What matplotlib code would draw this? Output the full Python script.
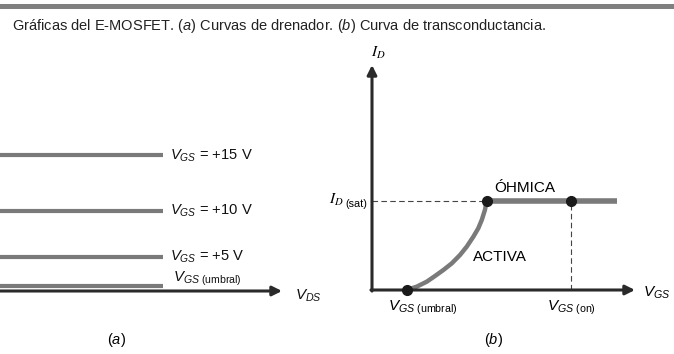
import numpy as np
import matplotlib
matplotlib.use("Agg")
import matplotlib.pyplot as plt

plt.rcParams['font.family'] = ['Liberation Sans', 'DejaVu Sans']
plt.rcParams['mathtext.fontset'] = 'custom'
plt.rcParams['mathtext.rm'] = 'Liberation Sans'
plt.rcParams['mathtext.it'] = 'Liberation Sans:italic'
plt.rcParams['mathtext.bf'] = 'Liberation Sans:bold'

# (a) curvas de drenador
vds_end = 10.0
id_curvas = [15.0, 8.9, 3.8, 0.55]
etiquetas_a = [r"$V_{GS}$ = +15 V", r"$V_{GS}$ = +10 V", r"$V_{GS}$ = +5 V",
               r"$V_{GS\ \mathrm{(umbral)}}$"]

# (b) curva de transconductancia
vgs_umbral = 2.0
vgs_knee = 6.54
vgs_on = 11.35
vgs_fin = 14.0
id_sat = 9.85
vgs_curva = [1.98, 2.55, 3.12, 3.59, 4.07, 4.55, 5.02, 5.40, 5.78, 6.06, 6.26, 6.44, 6.54]
id_curva = [0.0, 0.37, 0.92, 1.55, 2.22, 2.96, 3.89, 4.81, 5.92, 6.85, 7.78, 8.89, 9.85]

W, H = 674, 354
GRIS = '#7a7a7a'
NEGRO = '#2a2a2a'

fig = plt.figure(figsize=(W / 100, H / 100), dpi=100)


def caja(x0, x1, y0, y1):
    # pixel box -> figure fraction
    return [x0 / W, (H - y0) / H, (x1 - x0) / W, (y0 - y1) / H]


# barra superior y titulo
fig.add_artist(plt.Rectangle((0, (H - 9) / H), 1, 5 / H, transform=fig.transFigure,
                             color='#808080', lw=0))
fig.text(12 / W, (H - 26) / H,
         r"Gráficas del E-MOSFET. ($\mathit{a}$) Curvas de drenador. ($\mathit{b}$) Curva de transconductancia.",
         fontsize=10.5, va='center', ha='left', color='#222222')

# ---- panel (a)
axa = fig.add_axes(caja(0, 282, 291, 65))
axa.set_xlim(0, 17.3)
axa.set_ylim(0, 25)
axa.axis('off')
for idv in id_curvas:
    axa.plot([0, vds_end], [idv, idv], color=GRIS, lw=3.0, solid_capstyle='butt', clip_on=False)
for idv, lab in zip(id_curvas[:3], etiquetas_a[:3]):
    axa.annotate(lab, (vds_end, idv), xytext=(7, 0), textcoords='offset pixels',
                 fontsize=10.6, va='center', ha='left', color='#111111')
axa.annotate(etiquetas_a[3], (vds_end, id_curvas[3]), xytext=(10, 4), textcoords='offset pixels',
             fontsize=10.8, va='baseline', ha='left', color='#111111')
axa.annotate('', xy=(17.3, 0), xytext=(0, 0),
             arrowprops=dict(arrowstyle='-|>', color=NEGRO, lw=2.2, mutation_scale=14,
                             shrinkA=0, shrinkB=0))
axa.annotate(r"$V_{DS}$", (17.3, 0), xytext=(13, -5), textcoords='offset pixels',
             fontsize=11, va='center', ha='left', color='#111111')
fig.text(116 / W, (H - 340) / H, r"($\mathit{a}$)", fontsize=10.5, ha='center', va='center')

# ---- panel (b)
axb = fig.add_axes(caja(372, 635, 290, 65))
axb.set_xlim(0, 15)
axb.set_ylim(0, 25)
axb.axis('off')
axb.plot([0, vgs_knee], [id_sat, id_sat], ls=(0, (5, 3)), color='#444444', lw=0.8)
axb.plot([vgs_on, vgs_on], [0, id_sat], ls=(0, (5, 3)), color='#444444', lw=0.8)
axb.plot(vgs_curva, id_curva, color=GRIS, lw=3.2, solid_capstyle='butt', solid_joinstyle='round')
axb.plot([vgs_knee, vgs_fin], [id_sat, id_sat], color=GRIS, lw=4.0, solid_capstyle='butt')
arrow = dict(arrowstyle='-|>', color=NEGRO, lw=2.2, mutation_scale=14, shrinkA=0, shrinkB=0)
axb.annotate('', xy=(15, 0), xytext=(-0.06, 0), arrowprops=arrow)
axb.annotate('', xy=(0, 25), xytext=(0, -0.12), arrowprops=arrow)
axb.plot([vgs_umbral, vgs_knee, vgs_on], [0, id_sat, id_sat], 'o', color='#1a1a1a',
         ms=7, clip_on=False, zorder=5)

axb.annotate(r"$I_D$", (0, 25), xytext=(-1, 4), textcoords='offset pixels',
             fontsize=11, ha='left', va='bottom', math_fontfamily='stix')
axb.annotate(r"$I_D$", (0, id_sat), xytext=(-43, 1), textcoords='offset pixels',
             fontsize=11, ha='left', va='center', math_fontfamily='stix')
axb.annotate("(sat)", (0, id_sat), xytext=(-5, -3), textcoords='offset pixels',
             fontsize=7.8, ha='right', va='center')
axb.annotate(r"$V_{GS}$", (15, 0), xytext=(8, -3), textcoords='offset pixels',
             fontsize=11, ha='left', va='center')
axb.annotate(r"$V_{GS\ \mathrm{(umbral)}}$", (vgs_umbral, 0), xytext=(16, -18),
             textcoords='offset pixels', fontsize=11, ha='center', va='center')
axb.annotate(r"$V_{GS\ \mathrm{(on)}}$", (vgs_on, 0), xytext=(0, -18),
             textcoords='offset pixels', fontsize=11, ha='center', va='center')
axb.annotate("ÓHMICA", ((vgs_knee + vgs_on) / 2, id_sat), xytext=(-4, 13),
             textcoords='offset pixels', fontsize=11, ha='center', va='center')
axb.annotate("ACTIVA", (vgs_knee, 0), xytext=(13, 33), textcoords='offset pixels',
             fontsize=11, ha='center', va='center')
fig.text(493 / W, (H - 340) / H, r"($\mathit{b}$)", fontsize=10.5, ha='center', va='center')

fig.savefig('out.png', dpi=100)
